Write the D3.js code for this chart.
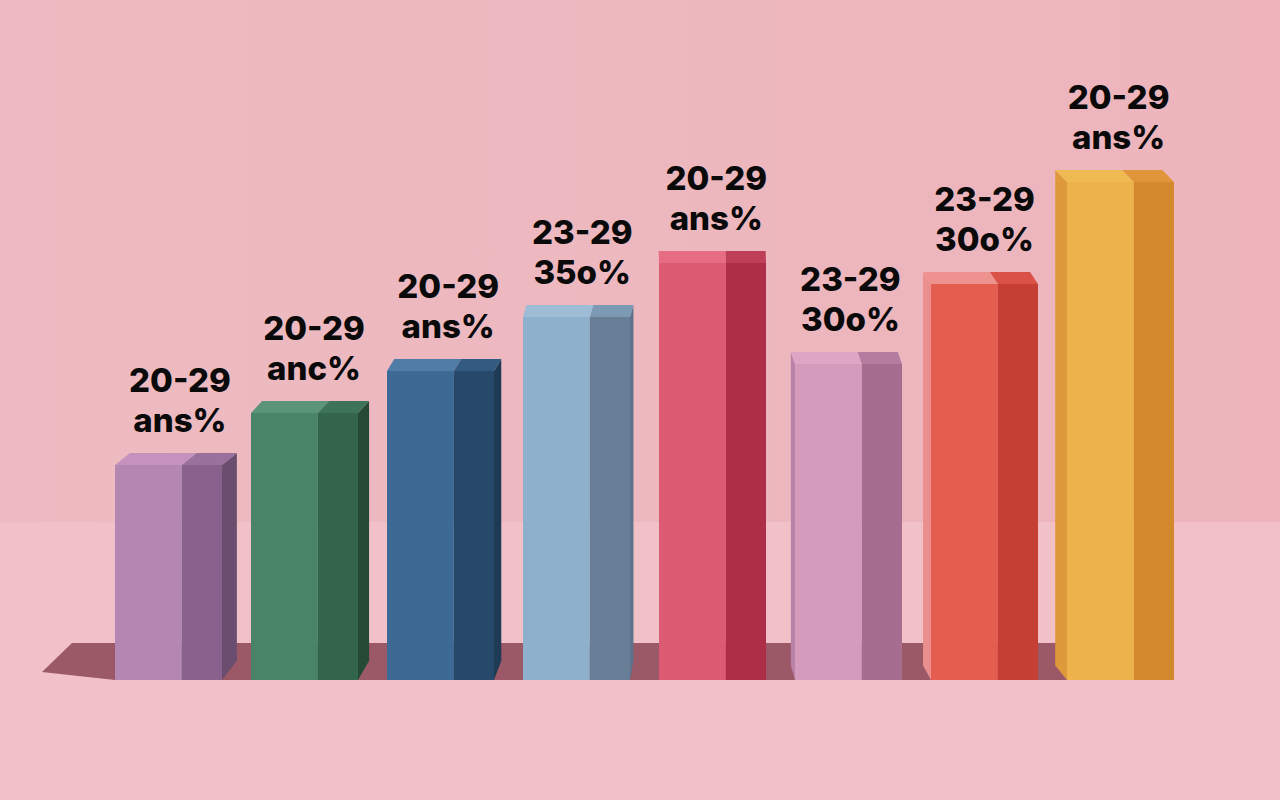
<!DOCTYPE html>
<html><head><meta charset="utf-8">
<script src="https://cdn.jsdelivr.net/npm/d3@7"></script>
<style>html,body{margin:0;padding:0;background:#F2C1C7;}svg{display:block;}</style>
</head><body>
<svg id="chart" width="1280" height="800"></svg>
<script>
// ---- data ----
const categories = ["b1","b2","b3","b4","b5","b6","b7","b8"];
const values = [21.5, 26.7, 30.9, 36.3, 41.7, 31.6, 39.6, 49.8];
const labelLine1 = ["20-29","20-29","20-29","23-29","20-29","23-29","23-29","20-29"];
const labelLine2 = ["ans%","anc%","ans%","35o%","ans%","30o%","30o%","ans%"];
// ---- palette ----
const lightColors = ["#B487B3","#4A8468","#3D6A94","#8FB0CD","#DC5B73","#D59BBC","#E45D4E","#EDB24C"];
const darkColors  = ["#88628C","#32654A","#26486A","#687E96","#AE2E48","#A66D91","#C63F35","#D3882E"];
const sideColors  = ["#6B4D6F","#244A36","#1E3A55","#5C738B","#9E2840","#B883A6","#EB8E8E","#DE9A3A"];
const topColors   = ["#C592BE","#5B9478","#4F7DA6","#9EBCD6","#E76D84","#DCA6C4","#EE928F","#F0BA52"];
const topDarkCols = ["#9A719D","#3D7457","#335A80","#7C9AB3","#C03F58","#B47C9F","#DA5147","#E0953A"];

const svg = d3.select("#chart");
const W = 1280, H = 800, horizon = 522, baseY = 680, vp = 700;

// background
const defs = svg.append("defs");
const g1 = defs.append("linearGradient").attr("id","bgTop").attr("x1","0").attr("y1","0").attr("x2","1").attr("y2","0");
g1.append("stop").attr("offset","0").attr("stop-color","#EDBBC1");
g1.append("stop").attr("offset","1").attr("stop-color","#EDB4BC");
svg.append("rect").attr("x",0).attr("y",0).attr("width",W).attr("height",horizon).attr("fill","url(#bgTop)");
svg.append("rect").attr("x",0).attr("y",horizon).attr("width",W).attr("height",H-horizon).attr("fill","#F2C1C7");

const step = 136, bwTarget = 107;
const x = d3.scaleBand().domain(categories)
  .range([115, 115 + 7*step + bwTarget])
  .paddingInner((step - bwTarget)/step).paddingOuter(0);
const y = d3.scaleLinear().domain([0, 50]).range([baseY, 180]);
const bw = x.bandwidth();
const lightFrac = 0.625;
const depthY = 12;
const sideOf = i => (vp - (x(categories[i]) + bw/2)) * 0.028;

// floor shadow band
const firstX = x(categories[0]);
const lastX = x(categories[7]);
svg.append("path")
  .attr("d", d3.line()([[firstX-73, baseY-8],[firstX-43, baseY-37],[lastX, baseY-37],[lastX, baseY],[firstX, baseY]]) + "Z")
  .attr("fill","#9B5866");

const bars = svg.append("g").selectAll("g").data(values).join("g");

bars.each(function(v, i){
  const g = d3.select(this);
  const x0 = x(categories[i]);
  const x1 = x0 + bw;
  const xm = x0 + bw*lightFrac;
  const yt = y(v);
  const dx = sideOf(i);
  const line = d3.line();
  // side face
  if (dx > 0.5) {
    g.append("path").attr("d", line([[x1,yt],[x1+dx,yt-depthY],[x1+dx,baseY-depthY*1.6],[x1,baseY]])+"Z").attr("fill", sideColors[i]);
  } else if (dx < -0.5) {
    g.append("path").attr("d", line([[x0,yt],[x0+dx,yt-depthY],[x0+dx,baseY-depthY*1.2],[x0,baseY]])+"Z").attr("fill", sideColors[i]);
  }
  // top face (two tones)
  g.append("path").attr("d", line([[x0,yt],[x0+dx,yt-depthY],[xm+dx,yt-depthY],[xm,yt]])+"Z").attr("fill", topColors[i]);
  g.append("path").attr("d", line([[xm,yt],[xm+dx,yt-depthY],[x1+dx,yt-depthY],[x1,yt]])+"Z").attr("fill", topDarkCols[i]);
  // front faces
  g.append("rect").attr("x",x0).attr("y",yt).attr("width",xm-x0).attr("height",baseY-yt).attr("fill",lightColors[i]);
  g.append("rect").attr("x",xm).attr("y",yt).attr("width",x1-xm).attr("height",baseY-yt).attr("fill",darkColors[i]);
  // labels
  const cx = x0 + bw/2 + dx/2 + 4;
  const t = g.append("text")
    .attr("text-anchor","middle")
    .attr("font-family","Inter, 'Liberation Sans', Arial, sans-serif")
    .attr("font-weight","800")
    .attr("font-size","33px")
    .attr("fill","#0a0a0a");
  t.append("tspan").attr("x",cx).attr("y",yt-73).text(labelLine1[i]);
  t.append("tspan").attr("x",cx).attr("y",yt-33).text(labelLine2[i]);
});
</script>
</body></html>
